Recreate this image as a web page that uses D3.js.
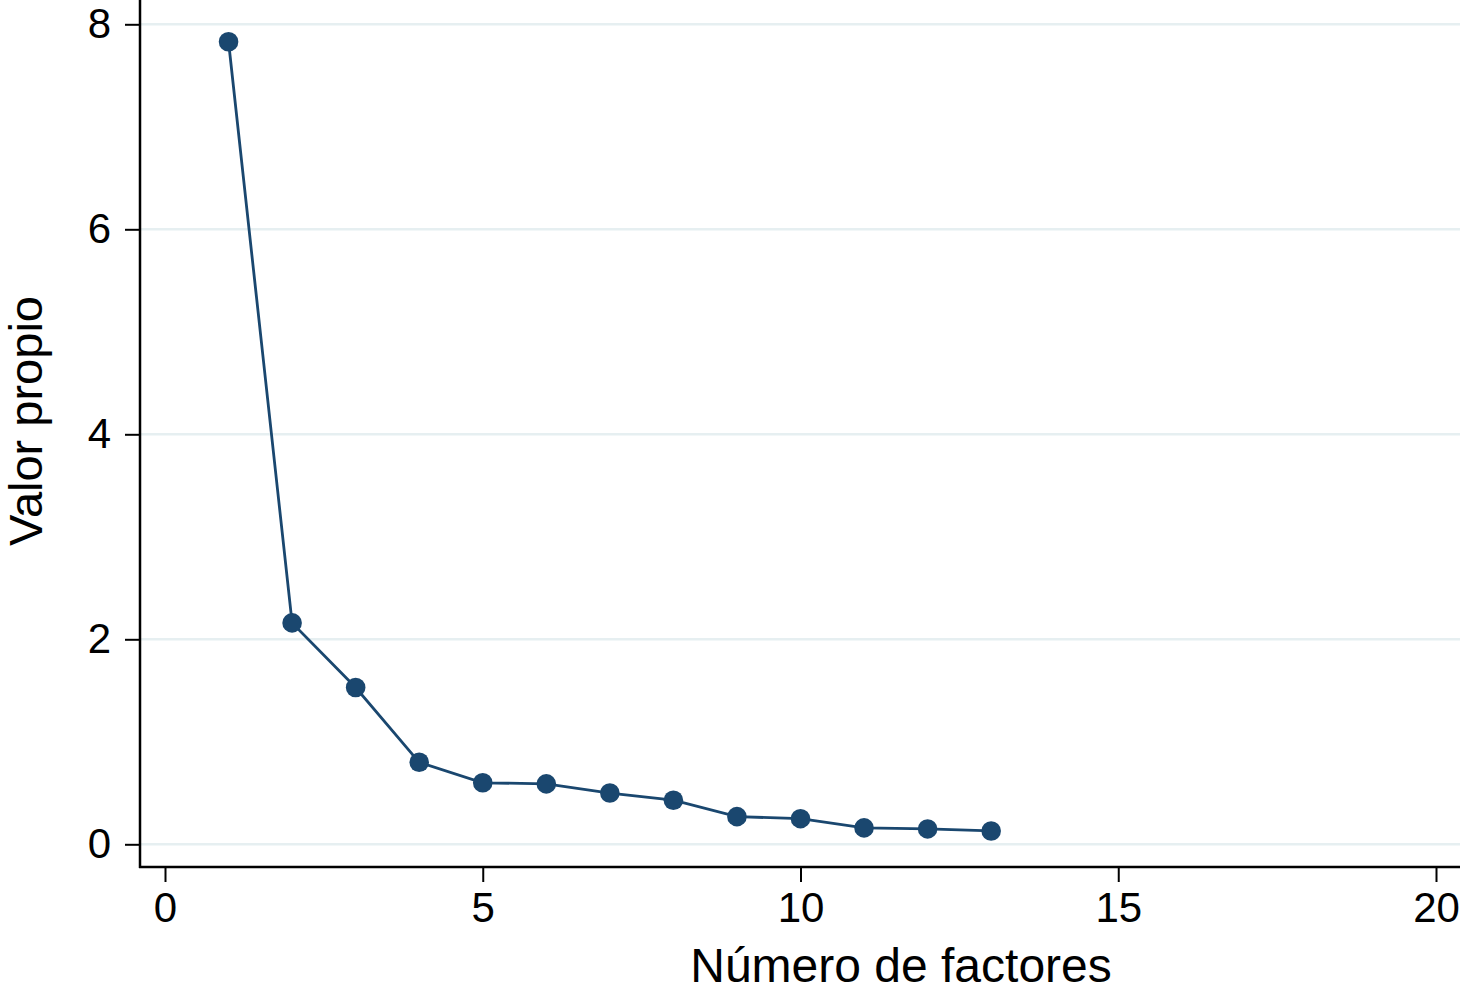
<!DOCTYPE html>
<html lang="es">
	<head>
		<meta charset="utf-8">
		<title>Gráfico de sedimentación</title>
		<script src="https://d3js.org/d3.v7.min.js"></script>
		<style type="text/css">
		body { margin: 0; background: #fff; }
		text { font-family: "Liberation Sans", Arial, sans-serif; fill: #000; }
		</style>
	</head>
	<body>
		<script type="text/javascript">

			//Data: eigenvalues per factor
			var factores = [1, 2, 3, 4, 5, 6, 7, 8, 9, 10, 11, 12, 13];
			var valores = [7.83, 2.16, 1.53, 0.80, 0.60, 0.59, 0.50, 0.43, 0.27, 0.25, 0.16, 0.15, 0.13];
			var xTicks = [0, 5, 10, 15, 20];
			var yTicks = [0, 2, 4, 6, 8];

			//Width and height
			var w = 1463;
			var h = 995;

			var x = d3.scaleLinear().domain([0, 20]).range([165, 1436]);
			var y = d3.scaleLinear().domain([0, 8]).range([844.3, 24.3]);

			var axisX = 140, axisY = 867, rightEdge = 1460;
			var navy = "#1a476f";

			var svg = d3.select("body")
						.append("svg")
						.attr("width", w)
						.attr("height", h);

			//Gridlines
			svg.append("g")
			   .selectAll("line")
			   .data(yTicks)
			   .enter()
			   .append("line")
			   .attr("x1", axisX + 1)
			   .attr("x2", rightEdge)
			   .attr("y1", function(d) { return y(d); })
			   .attr("y2", function(d) { return y(d); })
			   .attr("stroke", "#e6eff1")
			   .attr("stroke-width", 2.5);

			//Y axis
			var yAxis = d3.axisLeft(y)
						  .tickValues(yTicks)
						  .tickSize(15)
						  .tickPadding(14)
						  .tickFormat(d3.format("d"));

			var gy = svg.append("g")
						.attr("transform", "translate(" + axisX + ",0)")
						.call(yAxis);
			gy.select(".domain").remove();
			gy.append("line")
			  .attr("x1", 0).attr("x2", 0)
			  .attr("y1", 0).attr("y2", axisY + 1)
			  .attr("stroke", "#000").attr("stroke-width", 2.5);

			//X axis
			var xAxis = d3.axisBottom(x)
						  .tickValues(xTicks)
						  .tickSize(15)
						  .tickPadding(10)
						  .tickFormat(d3.format("d"));

			var gx = svg.append("g")
						.attr("transform", "translate(0," + axisY + ")")
						.call(xAxis);
			gx.select(".domain").remove();
			gx.append("line")
			  .attr("x1", axisX - 1).attr("x2", rightEdge)
			  .attr("y1", 0).attr("y2", 0)
			  .attr("stroke", "#000").attr("stroke-width", 2.5);

			svg.selectAll(".tick line").attr("stroke", "#000").attr("stroke-width", 2);
			svg.selectAll(".tick text")
			   .style("font-family", "'Liberation Sans', Arial, sans-serif")
			   .style("font-size", "42px")
			   .attr("fill", "#000");

			//Axis titles
			svg.append("text")
			   .attr("transform", "translate(42,421) rotate(-90)")
			   .attr("text-anchor", "middle")
			   .style("font-size", "47px")
			   .text("Valor propio");

			svg.append("text")
			   .attr("x", 901)
			   .attr("y", 982)
			   .attr("text-anchor", "middle")
			   .style("font-size", "48px")
			   .text("Número de factores");

			//Line and points
			var points = factores.map(function(f, i) { return [f, valores[i]]; });

			var line = d3.line()
						 .x(function(d) { return x(d[0]); })
						 .y(function(d) { return y(d[1]); });

			svg.append("path")
			   .datum(points)
			   .attr("d", line)
			   .attr("fill", "none")
			   .attr("stroke", navy)
			   .attr("stroke-width", 2.8);

			svg.selectAll("circle")
			   .data(points)
			   .enter()
			   .append("circle")
			   .attr("cx", function(d) { return x(d[0]); })
			   .attr("cy", function(d) { return y(d[1]); })
			   .attr("r", 9.8)
			   .attr("fill", navy);

		</script>
	</body>
</html>
